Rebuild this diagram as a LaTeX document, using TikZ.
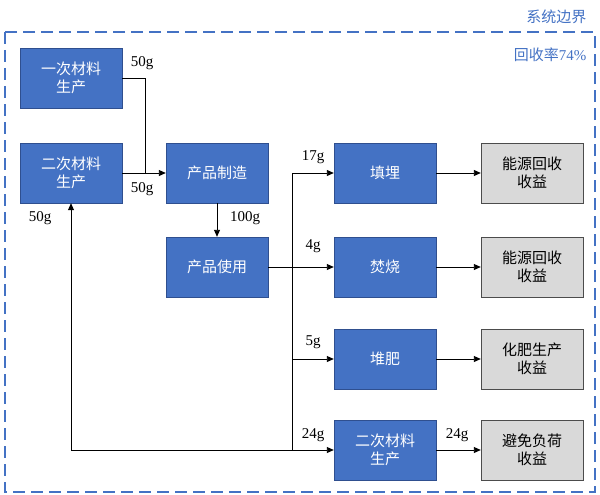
\documentclass[tikz,border=0pt]{standalone}
\usepackage{fontspec}
\setmainfont{Liberation Serif}
\newfontfamily\cjk{Noto Sans CJK SC}
\usetikzlibrary{arrows.meta}
\definecolor{bl}{HTML}{4472C4}
\definecolor{bd}{HTML}{2F4F8F}
\definecolor{gr}{HTML}{D9D9D9}
\begin{document}
\begin{tikzpicture}[x=1pt,y=-1pt,
 bbox/.style={draw=bd,fill=bl,minimum width=102pt,minimum height=60pt,text=white,font=\cjk\fontsize{15}{18}\selectfont,align=center,inner sep=0pt},
 gbox/.style={draw=black!70,fill=gr,minimum width=102pt,minimum height=60pt,text=black,font=\cjk\fontsize{15}{18}\selectfont,align=center,inner sep=0pt},
 arr/.style={-{Triangle[length=7pt,width=6pt]},line width=0.9pt},
 ln/.style={line width=0.9pt},
 lab/.style={font=\fontsize{15}{18}\selectfont}]
\useasboundingbox (0,0) rectangle (600,495);
\draw[bl,line width=2.5pt,dash pattern=on 12pt off 6pt] (5,32) rectangle (595,492);
\node[text=bl,font=\cjk\fontsize{15}{18}\selectfont,anchor=east] (t) at (590,17) {系统边界};
\node[text=bl,font=\fontsize{15}{18}\selectfont,anchor=east] (r) at (590,55) {{\cjk 回收率}74\%};
\node[bbox] (p1) at (71,78) {一次材料\\生产};
\node[bbox] (s1) at (71,173) {二次材料\\生产};
\node[bbox] (m) at (217,173) {产品制造};
\node[bbox] (u) at (217,267) {产品使用};
\node[bbox] (a) at (385,173) {填埋};
\node[bbox] (b) at (385,267) {焚烧};
\node[bbox] (c) at (385,359) {堆肥};
\node[bbox] (d) at (385,450) {二次材料\\生产};
\node[gbox] (ga) at (532,173) {能源回收\\收益};
\node[gbox] (gb) at (532,267) {能源回收\\收益};
\node[gbox] (gc) at (532,359) {化肥生产\\收益};
\node[gbox] (gd) at (532,450) {避免负荷\\收益};
\coordinate (j1) at (145,78);
\coordinate (j2) at (292,267);
\draw[ln] (p1.east) -- (j1) -- (145,173);
\draw[arr] (s1.east) -- (m.west);
\draw[arr] (m.south) -- (u.north);
\draw[ln] (u.east) -- (j2);
\draw[arr] (292,450) -- (292,173) -- (a.west);
\draw[arr] (j2) -- (b.west);
\draw[arr] (292,359) -- (c.west);
\draw[arr] (292,450) -- (d.west);
\draw[arr] (292,450) -- (71,450) -- (s1.south);
\draw[arr] (a.east) -- (ga.west);
\draw[arr] (b.east) -- (gb.west);
\draw[arr] (c.east) -- (gc.west);
\draw[arr] (d.east) -- (gd.west);
\node[lab] (l1) at (142,63) {50g};
\node[lab] (l2) at (142,189) {50g};
\node[lab] (l3) at (40,218) {50g};
\node[lab] (l4) at (245,218) {100g};
\node[lab] (l5) at (313,157) {17g};
\node[lab] (l6) at (313,246) {4g};
\node[lab] (l7) at (313,342) {5g};
\node[lab] (l8) at (313,435) {24g};
\node[lab] (l9) at (457,435) {24g};
\end{tikzpicture}
\end{document}
